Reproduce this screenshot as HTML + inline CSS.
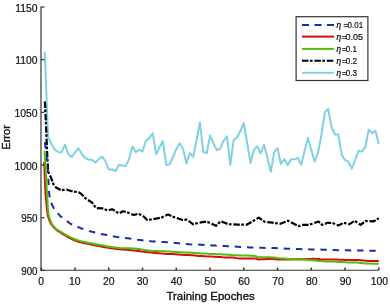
<!DOCTYPE html>
<html><head><meta charset="utf-8"><style>
html,body{margin:0;padding:0;background:#fff;}
svg{display:block;}
.lbl{font-family:"Liberation Sans",sans-serif;font-size:10.4px;fill:#111;stroke:#111;stroke-width:0.2px;}
.leg{font-family:"Liberation Sans",sans-serif;font-size:8.8px;fill:#111;stroke:#111;stroke-width:0.2px;}
</style></head><body>
<svg width="390" height="304" viewBox="0 0 390 304">
<rect width="390" height="304" fill="#fff"/>
<g fill="none" stroke-linejoin="round" transform="translate(0.3,0)">
<polyline points="44.4,51.8 47.8,136.9 51.1,143.8 54.5,149.6 57.9,152.0 61.2,152.4 64.6,144.7 68.0,154.2 71.4,157.0 74.8,152.5 78.1,148.2 81.5,154.0 84.9,158.0 88.2,159.7 91.6,159.7 95.0,162.6 98.4,159.3 101.8,156.7 105.1,161.0 108.5,169.5 111.9,169.5 115.2,171.2 118.6,165.0 122.0,165.5 125.4,166.0 128.8,159.3 132.1,146.6 135.5,152.1 138.9,149.7 142.2,151.5 145.6,140.8 149.0,138.4 152.4,133.2 155.8,154.3 159.1,147.5 162.5,141.1 165.9,164.9 169.2,164.5 172.6,157.0 176.0,149.0 179.4,143.2 182.8,149.0 186.1,163.6 189.5,153.0 192.9,156.8 196.2,140.0 199.6,122.6 203.0,152.0 206.4,153.3 209.8,135.6 213.1,143.0 216.5,150.0 219.9,148.7 223.2,141.0 226.6,136.4 230.0,164.9 233.4,139.9 236.8,137.5 240.1,131.0 243.5,123.0 246.9,143.0 250.2,162.9 253.6,149.7 257.0,146.4 260.4,153.2 263.8,144.7 267.1,158.0 270.5,171.8 273.9,152.1 277.2,148.2 280.6,164.0 284.0,159.3 287.4,165.3 290.8,159.3 294.1,159.3 297.5,157.8 300.9,164.9 304.2,151.0 307.6,137.9 311.0,150.0 314.4,161.6 317.8,152.4 321.1,135.0 324.5,112.5 327.9,108.9 331.2,127.0 334.6,134.5 338.0,134.5 341.4,154.6 344.8,160.2 348.1,161.7 351.5,168.6 354.9,160.0 358.2,150.9 361.6,151.6 365.0,147.2 368.4,129.7 371.8,133.1 375.1,130.6 378.5,144.2" stroke="#7fd1e3" stroke-width="2"/>
<polyline points="44.5,100.3 45.5,120.0 46.5,145.0 47.2,160.0 47.9,171.8 50.5,177.1 53.2,184.3 55.8,187.6 61.0,190.3 66.3,189.6 72.9,191.6 78.2,192.2 81.2,194.2 85.8,198.8 91.9,202.7 95.8,208.1 101.9,208.4 107.3,210.4 111.9,209.3 118.8,213.5 122.7,211.2 128.1,212.7 133.5,215.0 137.7,213.8 142.3,215.4 146.9,220.0 153.1,219.2 160.8,217.7 167.7,214.6 173.1,216.9 182.3,220.0 186.5,219.6 192.7,224.2 198.8,222.7 206.5,221.6 215.8,225.8 220.4,221.2 228.1,224.2 237.3,224.7 246.2,224.7 251.5,221.9 258.5,217.6 264.6,221.9 272.3,222.7 280.0,223.8 287.7,220.7 293.1,223.5 298.5,226.2 301.2,224.9 307.3,224.9 311.9,223.8 318.1,221.5 321.9,224.9 327.3,222.8 331.9,222.8 338.1,225.4 343.5,222.8 349.2,224.2 354.4,220.8 360.2,224.8 365.4,221.0 373.4,221.3 378.5,218.2" stroke="#000" stroke-width="2.2" stroke-dasharray="6.5 1.4 2.7 1.8" stroke-dashoffset="-1.2"/>
<polyline points="44.6,141.6 44.9,144.6 45.4,148.9 45.9,153.7 46.3,158.0 46.7,161.7 47.0,165.2 47.3,168.6 47.6,172.0 47.8,175.4 48.0,178.7 48.2,181.9 48.4,185.0 48.6,188.0 48.7,190.9 48.9,193.6 49.2,196.0 49.5,198.0 49.9,199.7 50.4,201.1 50.8,202.5 51.3,203.7 51.7,204.8 52.2,205.8 52.8,206.8 53.4,207.9 54.0,208.9 54.7,210.0 55.5,211.0 56.4,212.1 57.5,213.3 58.5,214.4 59.3,215.2 59.5,215.6 59.4,215.6 59.5,215.8 60.1,216.3 61.7,217.5 64.0,219.2 66.4,220.8 68.1,222.1 68.8,222.7 68.9,222.9 69.1,223.1 70.0,223.6 72.0,224.6 74.7,225.8 77.6,227.0 80.5,228.2 83.3,229.2 86.1,230.1 88.9,231.0 91.8,231.8 94.7,232.5 97.7,233.2 100.7,233.9 103.7,234.5 106.7,235.1 109.6,235.7 112.5,236.3 115.5,236.8 118.5,237.2 121.5,237.6 124.5,237.9 127.5,238.3 130.6,238.7 133.8,239.2 137.0,239.7 140.1,240.1 143.1,240.5 146.1,240.8 149.0,241.1 152.0,241.4 155.0,241.6 157.9,241.8 160.9,241.9 163.8,242.1 166.6,242.3 169.3,242.5 172.0,242.7 175.0,243.0 178.3,243.3 181.9,243.6 185.4,243.9 188.8,244.2 191.9,244.4 194.9,244.5 197.8,244.6 200.7,244.7 203.7,244.9 206.6,245.1 209.5,245.3 212.5,245.5 215.5,245.6 218.4,245.7 221.4,245.9 224.5,246.0 227.7,246.2 230.9,246.4 234.1,246.6 237.3,246.8 240.4,247.0 243.4,247.1 246.5,247.3 249.5,247.4 252.5,247.5 255.6,247.6 258.6,247.7 261.7,247.8 264.9,247.9 268.2,247.9 271.4,248.0 274.6,248.1 277.6,248.2 280.4,248.4 283.3,248.6 286.2,248.7 289.2,248.8 292.3,248.9 295.5,249.0 298.6,249.1 301.7,249.2 304.8,249.3 307.9,249.3 311.0,249.4 314.0,249.5 316.9,249.5 319.8,249.6 322.8,249.7 325.8,249.8 328.9,249.9 331.9,250.0 335.0,250.1 338.1,250.2 341.2,250.2 344.4,250.3 347.5,250.3 350.6,250.4 353.7,250.4 356.8,250.5 359.9,250.5 363.1,250.6 366.4,250.7 369.5,250.7 372.2,250.8 374.3,250.8 376.1,250.9 377.5,250.9 378.5,250.9" stroke="#1430a2" stroke-width="2" stroke-dasharray="6.4 5.84" stroke-dashoffset="11.64"/>
<polyline points="43.9,161.8 44.0,165.1 44.2,170.0 44.4,175.2 44.6,180.0 44.8,184.1 44.9,188.0 45.1,191.7 45.3,195.0 45.5,198.0 45.8,200.6 46.1,203.0 46.3,205.0 46.4,206.6 46.5,207.8 46.6,208.8 46.7,210.0 46.9,211.4 47.1,212.8 47.3,214.3 47.6,215.8 48.0,217.3 48.5,218.8 49.0,220.3 49.6,221.7 50.2,222.9 50.9,224.1 51.7,225.1 52.5,226.2 53.4,227.2 54.4,228.2 55.4,229.2 56.5,230.1 57.6,230.9 58.8,231.7 60.0,232.4 61.4,233.3 63.0,234.3 64.7,235.4 66.5,236.5 68.4,237.6 70.5,238.6 72.7,239.6 74.9,240.5 76.6,241.2 77.6,241.6 78.0,241.8 78.6,242.0 80.0,242.3 82.6,242.9 86.0,243.6 89.7,244.3 93.2,245.0 96.5,245.7 99.8,246.3 103.0,246.9 106.3,247.5 109.7,248.0 113.1,248.5 116.5,248.9 119.5,249.3 122.1,249.5 124.3,249.7 126.5,249.8 128.7,250.0 131.0,250.2 133.2,250.4 135.6,250.7 138.2,251.0 141.2,251.4 144.5,251.8 147.9,252.2 151.3,252.6 154.7,252.9 158.1,253.2 161.4,253.5 164.5,253.7 167.3,253.9 169.8,254.0 172.2,254.1 175.0,254.3 178.1,254.5 181.4,254.7 184.8,254.9 188.2,255.1 191.5,255.3 194.7,255.6 198.0,255.9 201.3,256.1 204.7,256.3 208.1,256.4 211.4,256.6 214.5,256.7 217.4,256.9 220.1,257.1 222.6,257.3 225.0,257.4 227.2,257.5 229.2,257.5 231.0,257.5 232.8,257.6 234.3,257.8 235.5,258.0 237.0,258.2 239.2,258.4 242.7,258.5 247.1,258.5 251.3,258.5 254.6,258.6 256.2,258.8 256.8,259.0 257.3,259.3 258.5,259.4 260.9,259.3 264.0,259.2 267.2,259.0 270.0,258.9 272.1,259.0 273.8,259.1 275.6,259.3 277.8,259.4 280.6,259.4 283.7,259.4 287.1,259.4 290.6,259.4 294.4,259.3 298.6,259.3 302.6,259.2 306.0,259.1 308.4,259.0 310.2,258.9 311.9,258.8 313.7,258.8 315.8,258.9 317.9,259.1 320.2,259.3 322.8,259.4 325.7,259.5 329.0,259.5 332.3,259.5 335.6,259.6 338.9,259.7 342.2,259.8 345.5,259.9 348.5,260.0 351.3,260.0 354.0,260.0 356.5,260.0 358.7,260.0 360.5,260.2 361.9,260.4 363.4,260.6 365.5,260.8 368.6,260.9 372.4,261.0 376.0,261.0 378.5,261.0" stroke="#d80c0c" stroke-width="2"/>
<polyline points="44.2,151.0 44.5,155.6 44.9,162.2 45.4,169.3 45.7,175.0 45.9,178.8 46.0,181.7 46.2,184.2 46.3,187.0 46.5,190.4 46.7,193.9 46.9,197.3 47.1,200.0 47.2,201.8 47.3,202.9 47.3,203.9 47.4,205.0 47.5,206.4 47.5,207.8 47.6,209.3 47.8,210.9 48.0,212.6 48.3,214.4 48.7,216.1 49.1,217.8 49.6,219.4 50.2,220.9 50.8,222.3 51.6,223.7 52.4,225.0 53.3,226.3 54.4,227.5 55.5,228.6 56.8,229.6 58.3,230.5 59.8,231.4 61.4,232.3 63.0,233.3 64.8,234.4 66.5,235.4 68.4,236.4 70.4,237.4 72.4,238.3 74.5,239.2 76.6,240.0 78.6,240.6 80.5,241.2 82.5,241.6 84.5,242.1 86.5,242.5 88.5,242.9 90.7,243.3 93.2,243.8 96.2,244.4 99.5,245.0 102.9,245.6 106.3,246.2 109.7,246.7 113.1,247.2 116.4,247.7 119.5,248.0 122.4,248.2 125.1,248.2 127.6,248.2 130.0,248.3 132.1,248.4 133.9,248.6 135.9,248.8 138.2,249.1 141.1,249.5 144.4,249.9 147.9,250.4 151.3,250.7 154.7,250.9 158.1,251.1 161.4,251.2 164.5,251.3 167.3,251.4 169.8,251.6 172.2,251.7 175.0,251.9 178.1,252.1 181.4,252.2 184.8,252.4 188.2,252.6 191.5,252.8 194.7,253.0 198.0,253.2 201.3,253.4 204.7,253.6 208.1,253.8 211.4,253.9 214.5,254.1 217.2,254.2 219.7,254.3 222.2,254.5 225.0,254.6 228.3,254.8 231.9,255.1 235.6,255.3 239.2,255.5 242.9,255.6 246.8,255.6 250.4,255.7 253.3,255.8 255.1,256.1 256.1,256.5 257.0,256.9 258.5,257.2 261.0,257.3 264.1,257.2 267.2,257.2 270.0,257.2 272.1,257.4 273.8,257.6 275.6,257.8 277.8,258.1 280.6,258.4 283.9,258.6 287.3,258.9 290.6,259.1 293.9,259.3 297.2,259.4 300.5,259.5 303.5,259.6 306.3,259.8 308.8,260.0 311.3,260.2 313.7,260.4 316.0,260.6 318.1,260.9 320.3,261.1 322.8,261.3 325.7,261.4 329.0,261.5 332.3,261.6 335.6,261.7 339.0,261.9 342.4,262.1 345.7,262.3 348.5,262.4 350.5,262.4 352.1,262.4 353.5,262.3 355.3,262.4 357.5,262.6 360.0,262.9 362.7,263.2 365.5,263.4 368.9,263.6 372.6,263.7 376.1,263.7 378.5,263.8" stroke="#52bb0c" stroke-width="2"/>
</g>
<g stroke="#555" stroke-width="1" fill="none">
<line x1="41" y1="6.5" x2="41" y2="270.5" stroke-width="1.6" stroke="#666"/>
<line x1="40.5" y1="270.3" x2="379.2" y2="270.3" stroke="#333" stroke-width="1.1"/>
<line x1="41" y1="7.00" x2="44.4" y2="7.00" stroke="#333" stroke-width="1.2"/><line x1="41" y1="59.68" x2="44.4" y2="59.68" stroke="#333" stroke-width="1.2"/><line x1="41" y1="112.36" x2="44.4" y2="112.36" stroke="#333" stroke-width="1.2"/><line x1="41" y1="165.04" x2="44.4" y2="165.04" stroke="#333" stroke-width="1.2"/><line x1="41" y1="217.72" x2="44.4" y2="217.72" stroke="#333" stroke-width="1.2"/><line x1="41" y1="270.40" x2="44.4" y2="270.40" stroke="#333" stroke-width="1.2"/><line x1="41.30" y1="270" x2="41.30" y2="267.6" stroke-width="1.5" stroke="#333"/><line x1="75.05" y1="270" x2="75.05" y2="267.6" stroke-width="1.5" stroke="#333"/><line x1="108.80" y1="270" x2="108.80" y2="267.6" stroke-width="1.5" stroke="#333"/><line x1="142.55" y1="270" x2="142.55" y2="267.6" stroke-width="1.5" stroke="#333"/><line x1="176.30" y1="270" x2="176.30" y2="267.6" stroke-width="1.5" stroke="#333"/><line x1="210.05" y1="270" x2="210.05" y2="267.6" stroke-width="1.5" stroke="#333"/><line x1="243.80" y1="270" x2="243.80" y2="267.6" stroke-width="1.5" stroke="#333"/><line x1="277.55" y1="270" x2="277.55" y2="267.6" stroke-width="1.5" stroke="#333"/><line x1="311.30" y1="270" x2="311.30" y2="267.6" stroke-width="1.5" stroke="#333"/><line x1="345.05" y1="270" x2="345.05" y2="267.6" stroke-width="1.5" stroke="#333"/><line x1="378.80" y1="270" x2="378.80" y2="267.6" stroke-width="1.5" stroke="#333"/>
</g>
<g class="lbl" text-anchor="end"><text x="37.6" y="11.60">1150</text><text x="37.6" y="64.28">1100</text><text x="37.6" y="116.96">1050</text><text x="37.6" y="169.64">1000</text><text x="37.6" y="222.32" textLength="16.4" lengthAdjust="spacingAndGlyphs">950</text><text x="37.6" y="275.00" textLength="16.4" lengthAdjust="spacingAndGlyphs">900</text></g>
<g class="lbl" text-anchor="middle"><text x="41.05" y="284.8">0</text><text x="74.89" y="284.8">10</text><text x="108.73" y="284.8">20</text><text x="142.57" y="284.8">30</text><text x="176.41" y="284.8">40</text><text x="210.25" y="284.8">50</text><text x="244.09" y="284.8">60</text><text x="277.93" y="284.8">70</text><text x="311.77" y="284.8">80</text><text x="345.61" y="284.8">90</text><text x="379.45" y="284.8">100</text></g>
<text class="lbl" x="210.6" y="300" text-anchor="middle" style="font-size:11.4px;stroke-width:0.35px">Training Epoches</text>
<text class="lbl" transform="translate(10.2,137.4) rotate(-90)" text-anchor="middle" textLength="24.6" lengthAdjust="spacingAndGlyphs" style="font-size:11.6px;stroke-width:0.35px">Error</text>
<g>
<rect x="296.1" y="16.7" width="71.8" height="63.8" fill="#fff" stroke="#333" stroke-width="1.2"/>
<line x1="302" y1="24.9" x2="334" y2="24.9" stroke="#1430a2" stroke-width="2" stroke-dasharray="7 5.5"/>
<line x1="302" y1="36.6" x2="334" y2="36.6" stroke="#d80c0c" stroke-width="2"/>
<line x1="302" y1="48.9" x2="334" y2="48.9" stroke="#52bb0c" stroke-width="2"/>
<line x1="302" y1="60.7" x2="334" y2="60.7" stroke="#000" stroke-width="2" stroke-dasharray="6.5 1.4 2.7 1.8"/>
<line x1="302" y1="72.8" x2="334" y2="72.8" stroke="#7fd1e3" stroke-width="2"/>
</g>
<g class="leg">
<text x="336.2" y="27.7" style="font-family:'Liberation Serif',serif;font-style:italic;font-size:10px">η</text><text x="343.6" y="27.7">=</text><text x="347.5" y="27.7" textLength="15.6" lengthAdjust="spacingAndGlyphs">0.01</text><text x="336.2" y="39.7" style="font-family:'Liberation Serif',serif;font-style:italic;font-size:10px">η</text><text x="341.6" y="39.7">=</text><text x="345.4" y="39.7" textLength="17.6" lengthAdjust="spacingAndGlyphs">0.05</text><text x="336.2" y="51.7" style="font-family:'Liberation Serif',serif;font-style:italic;font-size:10px">η</text><text x="341.8" y="51.7">=</text><text x="345.8" y="51.7" textLength="11.3" lengthAdjust="spacingAndGlyphs">0.1</text><text x="336.2" y="63.7" style="font-family:'Liberation Serif',serif;font-style:italic;font-size:10px">η</text><text x="341.8" y="63.7">=</text><text x="345.8" y="63.7" textLength="11.3" lengthAdjust="spacingAndGlyphs">0.2</text><text x="336.2" y="75.7" style="font-family:'Liberation Serif',serif;font-style:italic;font-size:10px">η</text><text x="341.8" y="75.7">=</text><text x="345.8" y="75.7" textLength="11.3" lengthAdjust="spacingAndGlyphs">0.3</text>
</g>
</svg>
</body></html>
